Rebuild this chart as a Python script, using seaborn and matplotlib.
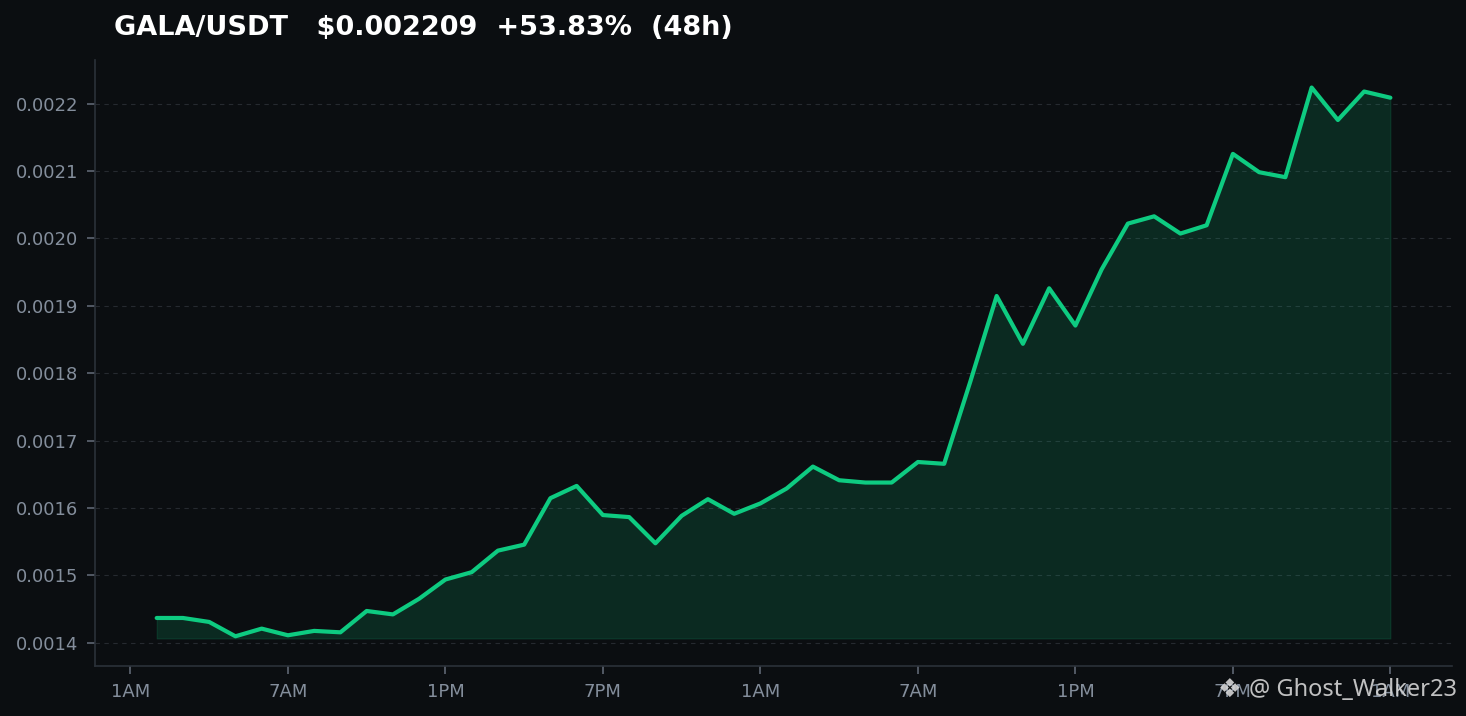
import numpy as np
import pandas as pd
import matplotlib
matplotlib.use("Agg")
import matplotlib.pyplot as plt
import matplotlib.dates as mdates
import seaborn as sns

# hourly GALA/USDT closes, 48h window
prices = [
    0.0014365, 0.0014365, 0.0014306, 0.0014093, 0.0014207, 0.0014108,
    0.0014173, 0.0014152, 0.0014469, 0.0014418, 0.0014651, 0.0014936,
    0.0015045, 0.0015365, 0.0015454, 0.0016144, 0.0016326, 0.0015893,
    0.0015863, 0.0015474, 0.0015882, 0.0016129, 0.0015912, 0.0016066,
    0.0016288, 0.0016613, 0.0016410, 0.0016376, 0.0016376, 0.0016681,
    0.0016654, 0.0017879, 0.0019146, 0.0018436, 0.0019260, 0.0018707,
    0.0019541, 0.0020221, 0.0020329, 0.0020073, 0.0020196, 0.0021256,
    0.0020984, 0.0020910, 0.0022241, 0.0021759, 0.0022182, 0.0022090,
]
times = pd.date_range("2024-01-01 02:00", periods=len(prices), freq="h")
pair = "GALA/USDT"
last_price = "$0.002209"
change = "+53.83%"
watermark = "@ Ghost_Walker23"

df = pd.DataFrame({"time": times, "price": prices})

BG = "#0b0e11"
GREEN = "#0ecb81"
GREY = "#848e9c"

sns.set_style("dark")
plt.rcParams["font.family"] = ["DejaVu Sans"]

fig = plt.figure(figsize=(14.66, 7.16), dpi=100, facecolor=BG)
ax = fig.add_axes([0.0648, 0.0698, 0.9257, 0.8464])
ax.set_facecolor(BG)

sns.lineplot(data=df, x="time", y="price", color=GREEN, linewidth=3, ax=ax)
base = min(prices) * 0.9977
ax.fill_between(df["time"], df["price"], base, color=GREEN, alpha=0.15,
                edgecolor=GREEN, linewidth=0.8)

ax.xaxis.set_major_locator(mdates.HourLocator(byhour=[1, 7, 13, 19]))
ax.xaxis.set_major_formatter(mdates.DateFormatter("%-I%p"))
ax.set_yticks(np.arange(0.0014, 0.00221, 0.0001))
ax.yaxis.set_major_formatter(matplotlib.ticker.FormatStrFormatter("%.4f"))

ax.grid(axis="y", color="#262a30", linestyle=(0, (4, 4)), linewidth=0.8)
ax.grid(axis="x", visible=False)
ax.set_xlabel("")
ax.set_ylabel("")
for s in ["top", "right"]:
    ax.spines[s].set_visible(False)
for s in ["left", "bottom"]:
    ax.spines[s].set_visible(True)
    ax.spines[s].set_color("#2b3139")
    ax.spines[s].set_linewidth(1.2)
ax.tick_params(colors=GREY, labelsize=13, length=6, width=1.2, pad=6,
               bottom=True, left=True)
ax.tick_params(axis="both", color="#5e6673")

fig.text(0.078, 0.961, f"{pair}   {last_price}  {change}  (48h)",
         color="white", fontsize=19.5, fontweight="bold", va="center", ha="left")

# watermark sits over the last tick labels, as in the source image
fig.text(0.994, 0.036, watermark, color="#d5d5d5", fontsize=17,
         family=["Noto Sans", "DejaVu Sans"], ha="right", va="center", alpha=0.9)
fig.text(0.8385, 0.036, "\u2756", color="#d5d5d5", fontsize=19,
         ha="center", va="center", alpha=0.9)

fig.savefig("out.png", dpi=100, facecolor=BG)
